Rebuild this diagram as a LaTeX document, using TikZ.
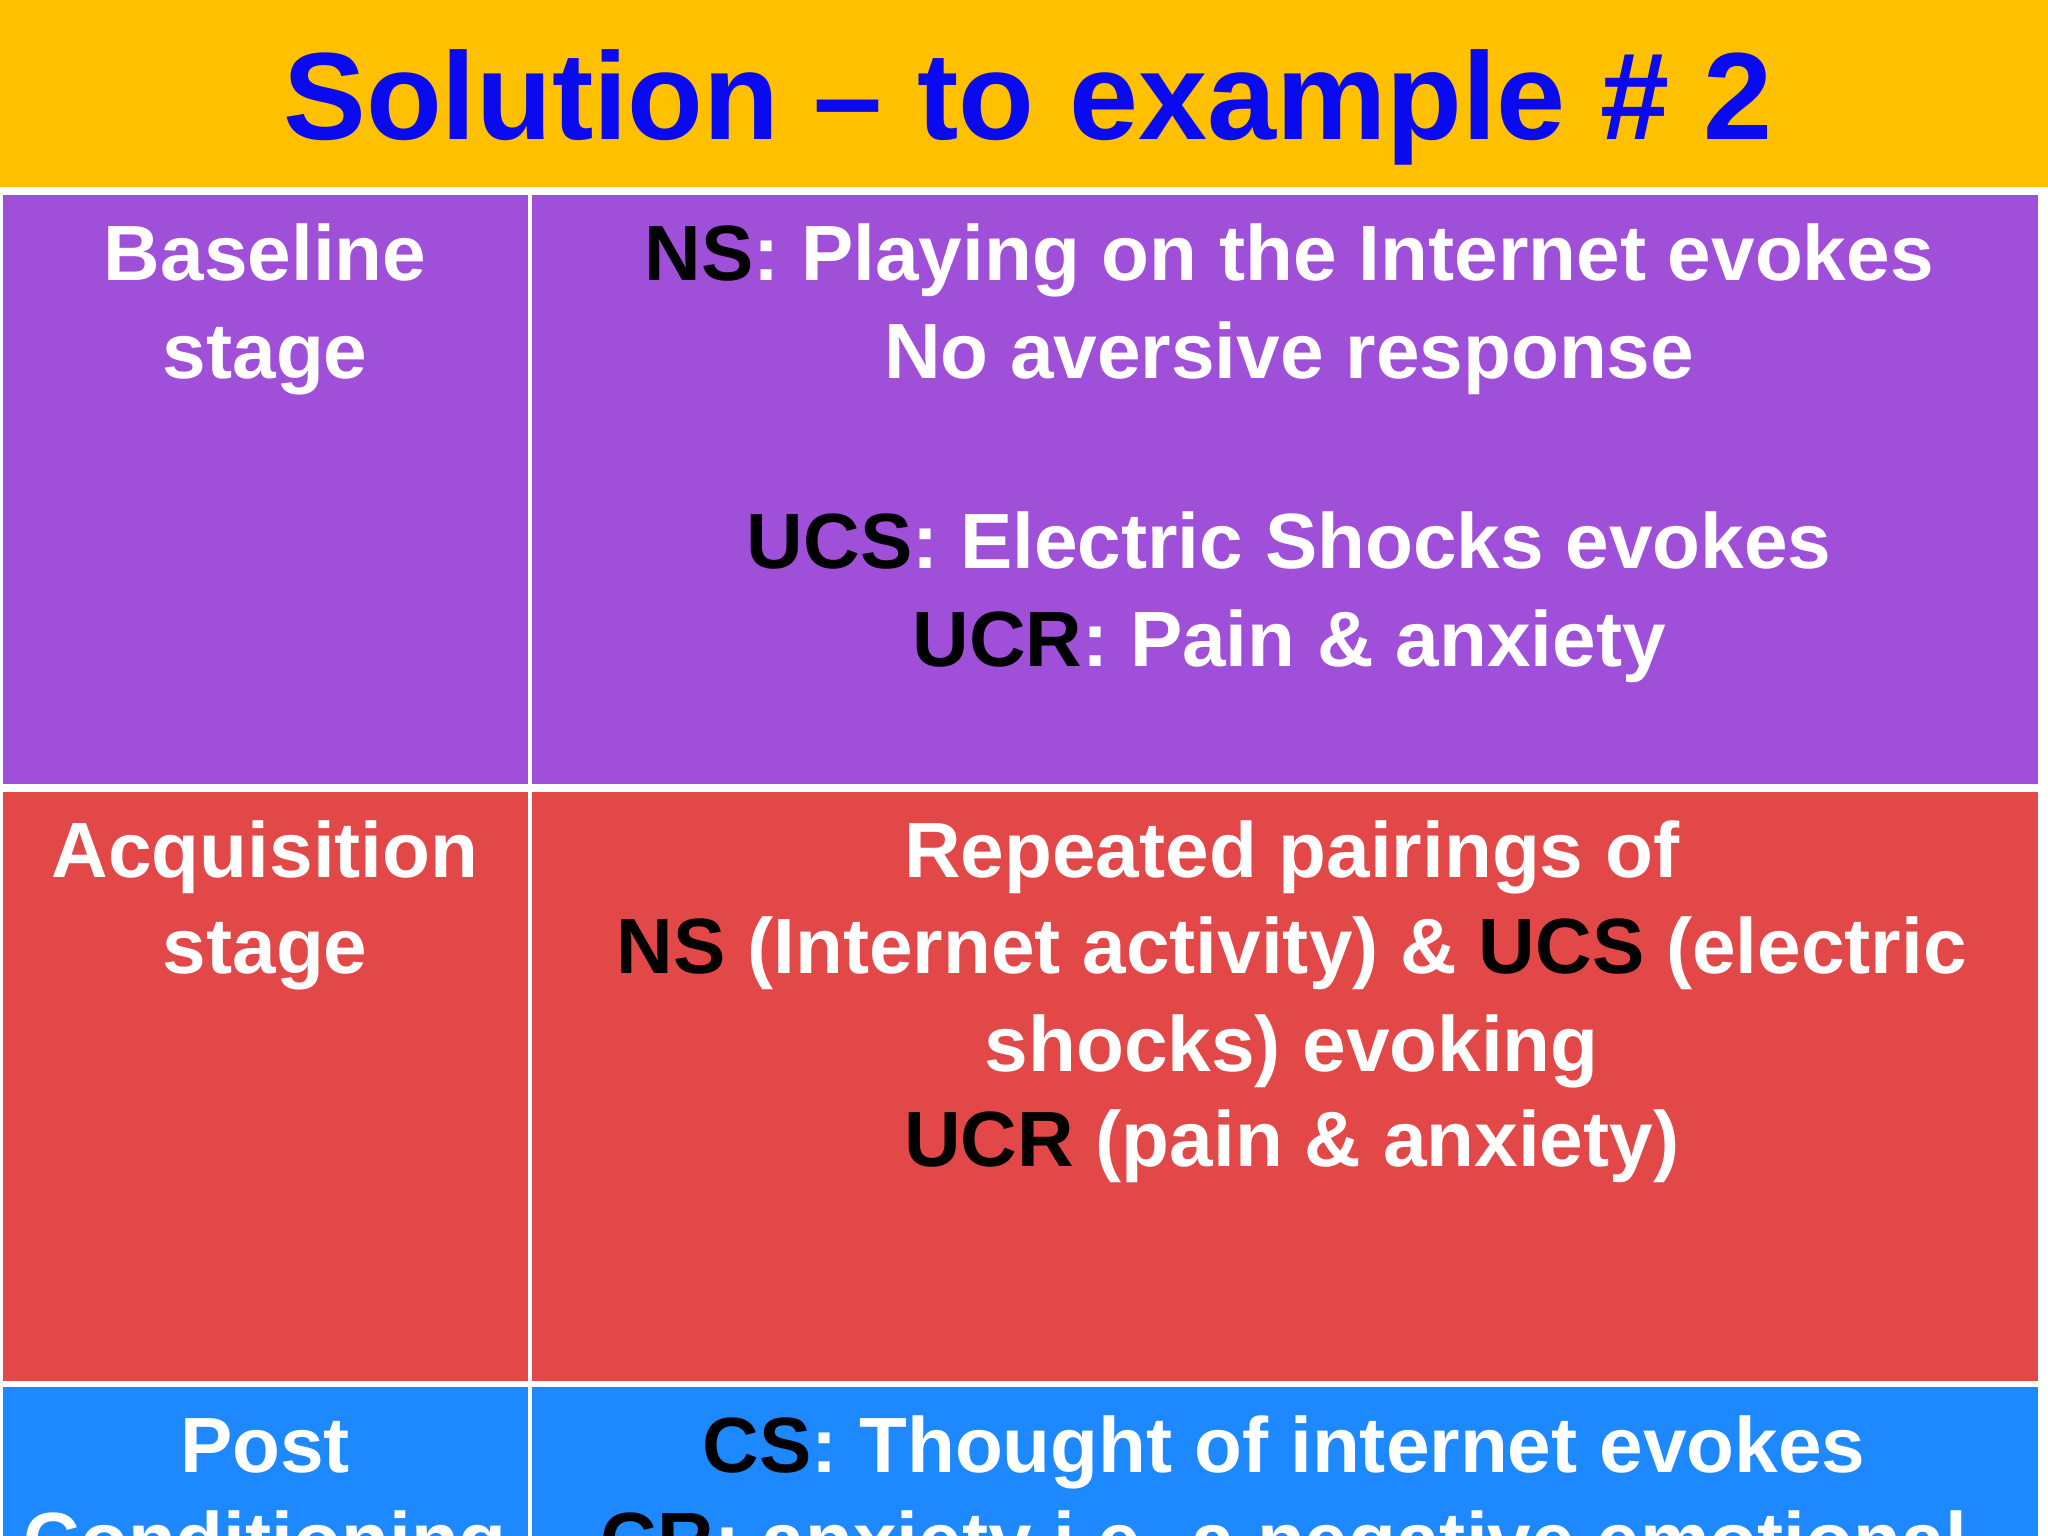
\documentclass[tikz,border=0pt]{standalone}
\usepackage{fontspec}
\setmainfont{Liberation Sans}
\definecolor{hdr}{HTML}{FFC000}
\definecolor{ttl}{HTML}{0A0AF0}
\definecolor{pur}{HTML}{A04FD9}
\definecolor{rd}{HTML}{E34848}
\definecolor{bl}{HTML}{1E88FF}
\tikzset{txt/.style={anchor=base,text=white,font=\fontsize{30pt}{36pt}\selectfont\bfseries,inner sep=0pt}}
\newcommand{\kw}[1]{\textcolor{black}{#1}}
\begin{document}
\begin{tikzpicture}[x=0.5pt,y=-0.5pt]
\useasboundingbox (0,0) rectangle (1568,1176);
\clip (0,0) rectangle (1568,1176);
\fill[white] (0,0) rectangle (1568,1176);
\fill[hdr] (0,0) rectangle (1568,143);
\node[anchor=base,text=ttl,font=\fontsize{47.5pt}{57pt}\selectfont\bfseries,inner sep=0pt] (title) at (787,107) {Solution – to example \# 2};
\fill[pur] (2,149) rectangle (404,600);
\fill[pur] (407,149) rectangle (1560,600);
\fill[rd] (2,606) rectangle (404,1057);
\fill[rd] (407,606) rectangle (1560,1057);
\fill[bl] (2,1062) rectangle (404,1176);
\fill[bl] (407,1062) rectangle (1560,1176);
\node[txt] (b1) at (203,215) {Baseline};
\node[txt] (b2) at (203,290) {stage};
\node[txt] (b3) at (987,215) {\kw{NS}: Playing on the Internet evokes};
\node[txt] (b4) at (987,290) {No aversive response};
\node[txt] (b5) at (987,435) {\kw{UCS}: Electric Shocks evokes};
\node[txt] (b6) at (987,510) {\kw{UCR}: Pain \& anxiety};
\node[txt] (a1) at (203,672) {Acquisition};
\node[txt] (a2) at (203,745) {stage};
\node[txt] (a3) at (989,672) {Repeated pairings of};
\node[txt] (a4) at (989,745) {\kw{NS} (Internet activity) \& \kw{UCS} (electric};
\node[txt] (a5) at (989,820) {shocks) evoking};
\node[txt] (a6) at (989,893) {\kw{UCR} (pain \& anxiety)};
\node[txt] (p1) at (203,1127) {Post};
\node[txt] (p2) at (203,1200) {Conditioning};
\node[txt] (p3) at (983,1127) {\kw{CS}: Thought of internet evokes};
\node[txt] (p4) at (983,1200) {\kw{CR}: anxiety i.e. a negative emotional};
\end{tikzpicture}
\end{document}
